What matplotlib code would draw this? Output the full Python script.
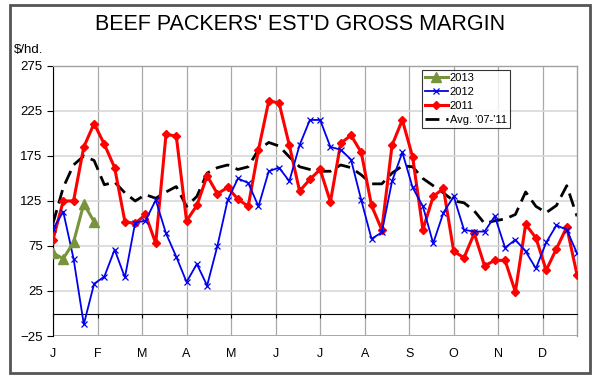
import numpy as np
import matplotlib
matplotlib.use('Agg')
import matplotlib.pyplot as plt
from matplotlib.patches import Rectangle

plt.rcParams['font.family'] = ['Liberation Sans', 'DejaVu Sans']

# weekly values, $/head
y2013 = [67, 61, 79, 122, 102]
y2012 = [94, 113, 61, -12, 33, 41, 71, 40, 101, 103, 126, 89, 63, 35, 55, 31,
         75, 126, 150, 145, 119, 158, 162, 147, 187, 215, 215, 185, 182, 171,
         126, 83, 90, 147, 179, 140, 119, 78, 112, 130, 93, 91, 91, 108, 73,
         82, 69, 50, 79, 98, 93, 67]
y2011 = [82, 125, 125, 185, 211, 188, 162, 102, 100, 110, 78, 199, 197, 103,
         120, 153, 133, 140, 127, 119, 182, 236, 234, 187, 136, 149, 160, 124,
         189, 198, 179, 120, 93, 187, 215, 174, 93, 130, 139, 69, 62, 89, 53,
         59, 59, 24, 99, 84, 48, 72, 96, 43]
avg_07_11 = [100, 140, 165, 175, 170, 143, 146, 134, 125, 132, 128, 135, 141,
             119, 130, 156, 162, 165, 160, 163, 182, 190, 186, 174, 163, 160,
             158, 158, 165, 162, 154, 144, 144, 156, 164, 163, 150, 142, 134,
             125, 123, 114, 100, 103, 105, 110, 135, 119, 112, 120, 142, 108]
month_labels = ['J', 'F', 'M', 'A', 'M', 'J', 'J', 'A', 'S', 'O', 'N', 'D']
yticks = [-25, 25, 75, 125, 175, 225, 275]

weeks = np.arange(len(y2011))
month_pos = np.arange(12) * 52 / 12

fig = plt.figure(figsize=(6, 3.82), dpi=100)
ax = fig.add_axes([0.0883, 0.1204, 0.8734, 0.707])

ax.plot(np.arange(len(y2013)), y2013, color='#77933c', lw=2.2, marker='^',
        ms=6.5, label='2013', zorder=5)
ax.plot(weeks, y2012, color='#0000ee', lw=1.3, marker='x', ms=4.5, mew=0.9,
        label='2012', zorder=4)
ax.plot(weeks, y2011, color='#ff0000', lw=2.2, marker='D', ms=3.8,
        label='2011', zorder=3)
ax.plot(weeks, avg_07_11, color='black', lw=2, dashes=(5, 2.5),
        label="Avg. '07-'11", zorder=2)

ax.set_xlim(0, 51)
ax.set_ylim(-25, 275)
ax.set_yticks(yticks)
ax.set_xticks(month_pos)
ax.set_xticklabels(month_labels)

# x axis crosses at zero, labels stay at the bottom
ax.spines['bottom'].set_position(('data', 0))
ax.spines['bottom'].set_linewidth(0.8)
ax.spines['left'].set_linewidth(0.8)
for s in ['top', 'right']:
    ax.spines[s].set_color('#a0a0a0')
    ax.spines[s].set_linewidth(1)
ax.tick_params(axis='x', direction='out', length=3, pad=22, labelsize=9,
               width=0.8)
ax.tick_params(axis='y', direction='out', length=4, labelsize=9.5, width=0.8)

ax.yaxis.grid(True, color='#d8d8d8', lw=1.2)
ax.xaxis.grid(True, color='#a8a8a8', lw=0.9)
ax.axhline(-25, color='#a0a0a0', lw=1.2, zorder=1)
ax.set_axisbelow(True)

fig.text(0.5, 1 - 24 / 382, "BEEF PACKERS' EST'D GROSS MARGIN",
         ha='center', va='center', fontsize=15.5)
fig.text(14 / 600, 1 - 50 / 382, '$/hd.', ha='left', va='center', fontsize=9.5)

leg = ax.legend(loc='upper left', bbox_to_anchor=(422 / 600, 1 - 70 / 382),
                bbox_transform=fig.transFigure, fontsize=8, frameon=True,
                fancybox=False, handlelength=2.0, handletextpad=0.2,
                borderpad=0.3, labelspacing=0.35, borderaxespad=0)
leg.get_frame().set_edgecolor('black')
leg.get_frame().set_linewidth(0.8)

fig.patches.append(Rectangle((10 / 600, 1 - 373 / 382), 580 / 600, 368 / 382,
                             transform=fig.transFigure, fill=False,
                             edgecolor='#555555', lw=2))

fig.savefig('out.png', dpi=100, facecolor='white')
